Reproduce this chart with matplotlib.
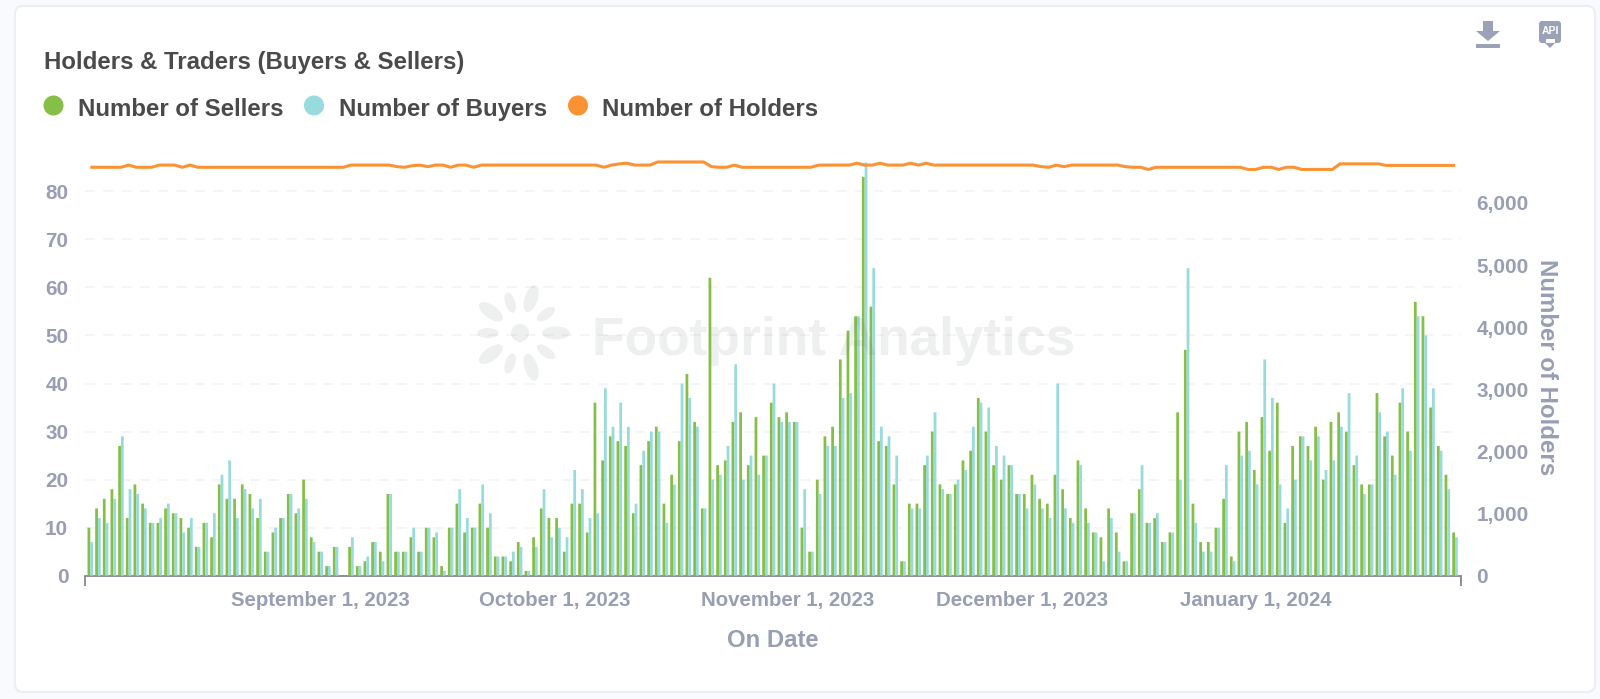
"""Holders & Traders chart: daily buyers/sellers bars with a holders line."""

import matplotlib
matplotlib.use("Agg")
import matplotlib.dates as mdates
import matplotlib.pyplot as plt
import numpy as np
import pandas as pd
from matplotlib.patches import Circle, Ellipse, FancyBboxPatch, Polygon, Rectangle
from matplotlib.ticker import FuncFormatter

plt.rcParams["font.family"] = ["Liberation Sans", "DejaVu Sans"]

START_DATE = "2023-08-02"

SELLERS = [
    10, 14, 16, 18, 27, 12, 19, 15, 11, 11, 14, 13, 12, 10, 6, 11, 8, 19, 16, 16,
    19, 17, 12, 5, 9, 12, 17, 13, 20, 8, 5, 2, 6, 0, 6, 2, 3, 7, 5, 17,
    5, 5, 8, 5, 10, 8, 2, 10, 15, 9, 10, 15, 10, 4, 4, 3, 7, 1, 8, 14,
    12, 12, 5, 15, 15, 9, 36, 24, 29, 28, 27, 13, 23, 28, 31, 15, 21, 28, 42, 32,
    14, 62, 23, 24, 32, 34, 23, 33, 25, 36, 33, 34, 32, 10, 5, 20, 29, 31, 45, 51,
    54, 83, 56, 28, 27, 19, 3, 15, 15, 23, 30, 19, 17, 19, 24, 26, 37, 30, 23, 20,
    23, 17, 17, 21, 16, 15, 21, 18, 12, 24, 14, 9, 8, 14, 9, 3, 13, 18, 11, 12,
    7, 9, 34, 47, 15, 7, 7, 10, 16, 4, 30, 32, 22, 33, 26, 36, 11, 27, 29, 27,
    31, 20, 32, 34, 30, 23, 19, 19, 38, 29, 25, 36, 30, 57, 54, 35, 27, 21, 9,
]
BUYERS = [
    7, 12, 11, 16, 29, 18, 17, 14, 11, 12, 15, 13, 9, 12, 6, 11, 13, 21, 24, 12,
    18, 14, 16, 5, 10, 12, 17, 14, 16, 7, 5, 2, 6, 0, 8, 2, 4, 7, 3, 17,
    5, 5, 10, 5, 10, 9, 1, 10, 18, 12, 10, 19, 13, 4, 4, 5, 6, 1, 6, 18,
    8, 10, 8, 22, 18, 12, 13, 39, 31, 36, 31, 15, 26, 30, 30, 11, 19, 40, 37, 31,
    14, 20, 21, 27, 44, 20, 25, 21, 25, 40, 32, 32, 32, 18, 5, 17, 27, 27, 37, 38,
    54, 86, 64, 31, 29, 25, 3, 14, 14, 25, 34, 18, 17, 20, 22, 31, 36, 35, 27, 25,
    23, 17, 14, 19, 14, 12, 40, 14, 11, 23, 11, 9, 3, 12, 5, 3, 13, 23, 11, 13,
    7, 9, 20, 64, 11, 5, 5, 10, 23, 3, 25, 26, 19, 45, 37, 19, 14, 20, 29, 24,
    29, 22, 24, 31, 38, 25, 17, 19, 34, 30, 21, 39, 26, 54, 50, 39, 26, 18, 8,
]
HOLDERS = [
    6575, 6575, 6575, 6575, 6575, 6610, 6575, 6575, 6575, 6610,
    6610, 6610, 6575, 6610, 6575, 6575, 6575, 6575, 6575, 6575,
    6575, 6575, 6575, 6575, 6575, 6575, 6575, 6575, 6575, 6575,
    6575, 6575, 6575, 6575, 6610, 6610, 6610, 6610, 6610, 6610,
    6585, 6575, 6600, 6610, 6585, 6610, 6610, 6575, 6610, 6610,
    6575, 6610, 6610, 6610, 6610, 6610, 6610, 6610, 6610, 6610,
    6610, 6610, 6610, 6610, 6610, 6610, 6610, 6575, 6610, 6630,
    6640, 6610, 6610, 6610, 6660, 6660, 6660, 6660, 6660, 6660,
    6660, 6585, 6575, 6575, 6610, 6575, 6575, 6575, 6575, 6575,
    6575, 6575, 6575, 6575, 6575, 6610, 6610, 6610, 6610, 6610,
    6640, 6610, 6610, 6640, 6610, 6610, 6610, 6640, 6610, 6640,
    6610, 6610, 6610, 6610, 6610, 6610, 6610, 6610, 6610, 6610,
    6610, 6610, 6610, 6610, 6585, 6575, 6610, 6585, 6610, 6610,
    6610, 6610, 6610, 6610, 6610, 6585, 6575, 6575, 6540, 6575,
    6575, 6575, 6575, 6575, 6575, 6575, 6575, 6575, 6575, 6575,
    6575, 6540, 6540, 6575, 6575, 6540, 6575, 6575, 6540, 6540,
    6540, 6540, 6540, 6630, 6630, 6630, 6630, 6630, 6630, 6605,
    6605, 6605, 6605, 6605, 6605, 6605, 6605, 6605, 6605,
]

# the original axis spaces its labels evenly, so Oct and Dec sit a bit past midnight
TICK_DATES = ["2023-09-01 00:00", "2023-10-01 14:00", "2023-11-01 00:00",
              "2023-12-01 14:00", "2024-01-01 00:00"]
TICK_LABELS = ["September 1, 2023", "October 1, 2023", "November 1, 2023",
               "December 1, 2023", "January 1, 2024"]
LEFT_TICKS = [0, 10, 20, 30, 40, 50, 60, 70, 80]
RIGHT_TICKS = [0, 1000, 2000, 3000, 4000, 5000, 6000]

GREEN = "#86BF47"
CYAN = "#98DBDC"
ORANGE = "#FB9233"
AXIS_GREY = "#989EB3"
DARK = "#4A4A4C"

W, H = 1600, 699
AX_LEFT, AX_RIGHT, AX_TOP, AX_BOTTOM = 85, 1461, 160, 575.7
LEFT_PX_PER_UNIT = 4.805
RIGHT_PX_PER_UNIT = 0.06212

fig = plt.figure(figsize=(W / 100, H / 100), dpi=100, facecolor="#F8FAFD")

# card behind everything, all in pixel coordinates
bg = fig.add_axes([0, 0, 1, 1], zorder=0)
bg.set_xlim(0, W)
bg.set_ylim(H, 0)
bg.axis("off")
bg.add_patch(FancyBboxPatch((15, 6), 1580, 686, boxstyle="round,pad=0,rounding_size=8",
                            fc="white", ec="#EDEEF1", lw=1.5))

ax = fig.add_axes([AX_LEFT / W, (H - AX_BOTTOM) / H, (AX_RIGHT - AX_LEFT) / W,
                   (AX_BOTTOM - AX_TOP) / H], zorder=1)
ax.patch.set_alpha(0)

dates = pd.date_range(START_DATE, periods=len(SELLERS))
x = mdates.date2num(dates)
ax.bar(x - 0.18, SELLERS, width=0.36, color=GREEN, zorder=3, lw=0, snap=False)
ax.bar(x + 0.18, BUYERS, width=0.36, color=CYAN, zorder=3, lw=0, snap=False)

xmin, xmax = x[0] - 0.69, x[-1] + 0.78
ax.set_xlim(xmin, xmax)
ax.set_ylim(0, (AX_BOTTOM - AX_TOP) / LEFT_PX_PER_UNIT)
ax.set_yticks(LEFT_TICKS)
ax.set_xticks(mdates.date2num(pd.to_datetime(TICK_DATES)))
ax.set_xticklabels(TICK_LABELS)
ax.set_xticks([xmin, xmax], minor=True)

ax.tick_params(axis="x", which="major", length=0, pad=11, labelsize=14.7,
               labelcolor=AXIS_GREY)
ax.tick_params(axis="x", which="minor", length=7.2, width=1.3, color="#85878F")
ax.tick_params(axis="y", length=0, pad=12, labelsize=14.85, labelcolor=AXIS_GREY)
for label in ax.get_xticklabels() + ax.get_yticklabels():
    label.set_fontweight("bold")

ax.grid(axis="y", color="#F2F2F3", lw=1.1, linestyle=(0, (6.5, 5.5)), zorder=0)
ax.set_axisbelow(True)
for side in ["top", "left", "right"]:
    ax.spines[side].set_visible(False)
ax.spines["bottom"].set_color("#85878F")
ax.spines["bottom"].set_linewidth(1.3)

ax2 = ax.twinx()
ax2.patch.set_alpha(0)
ax2.plot(x, HOLDERS, color=ORANGE, lw=2.2, zorder=4, solid_joinstyle="round",
         solid_capstyle="butt")
ax2.set_ylim(0, (AX_BOTTOM - AX_TOP) / RIGHT_PX_PER_UNIT)
ax2.set_yticks(RIGHT_TICKS)
ax2.yaxis.set_major_formatter(FuncFormatter(lambda v, _: f"{int(v):,}"))
ax2.tick_params(axis="y", length=0, pad=11, labelsize=14.85, labelcolor=AXIS_GREY)
for label in ax2.get_yticklabels():
    label.set_fontweight("bold")
for side in ["top", "left", "right", "bottom"]:
    ax2.spines[side].set_visible(False)

# texts, legend, watermark and icons on a top overlay
top = fig.add_axes([0, 0, 1, 1], zorder=5)
top.set_xlim(0, W)
top.set_ylim(H, 0)
top.axis("off")

top.text(44, 69, "Holders & Traders (Buyers & Sellers)", fontsize=17.3,
         fontweight="bold", color=DARK, va="baseline")
# y nudge on Buyers: its descender makes the text bitmap land a pixel higher
for cx, tx, ty, color, name in [(53.5, 78, 115.5, GREEN, "Number of Sellers"),
                                (314, 339, 116, CYAN, "Number of Buyers"),
                                (578, 602, 115.5, ORANGE, "Number of Holders")]:
    top.add_patch(Circle((cx, 105.5), 10, fc=color, ec="none"))
    top.text(tx, ty, name, fontsize=17.3, fontweight="bold", color=DARK, va="baseline")

top.text(773, 640.5, "On Date", fontsize=17.2, fontweight="bold", color=AXIS_GREY,
         ha="center", va="center")
top.text(1546.5, 367.5, "Number of Holders", fontsize=17.3, fontweight="bold", color=AXIS_GREY,
         rotation=270, ha="center", va="center")

# watermark
top.text(592, 341, "Footprint Analytics", fontsize=38.3, fontweight="bold", color="#6B7075",
         alpha=0.11, va="center")
for angle, dist, a, b in [(i * 36.0, 36, 28, 13) if i % 2 == 0 else (i * 36.0, 32, 21, 10)
                          for i in range(10)]:
    rad = np.deg2rad(angle)
    top.add_patch(Ellipse((520 + dist * np.cos(rad), 333 + dist * np.sin(rad)), a, b,
                          angle=angle, fc="#6B7075", ec="none", alpha=0.11))
top.add_patch(Circle((520, 333), 9, fc="#6B7075", ec="none", alpha=0.11))

# download icon
icon = "#9BA1B6"
top.add_patch(Polygon([(1483, 21), (1493, 21), (1493, 31), (1500, 31), (1488, 41),
                       (1476, 31), (1483, 31)], fc=icon, ec="none"))
top.add_patch(Rectangle((1476, 44), 24, 4, fc=icon, ec="none"))

# api icon
top.add_patch(FancyBboxPatch((1539, 21), 22, 22, boxstyle="round,pad=0,rounding_size=3",
                             fc=icon, ec="none"))
top.add_patch(Polygon([(1545, 43), (1555, 43), (1550, 48)], fc=icon, ec="none"))
top.add_patch(Rectangle((1545.5, 39), 9, 3.5, fc="white", ec="none"))
top.text(1550, 30.5, "API", fontsize=7.5, fontweight="bold", color="white",
         ha="center", va="center")

fig.savefig("out.png", dpi=100, facecolor=fig.get_facecolor())
